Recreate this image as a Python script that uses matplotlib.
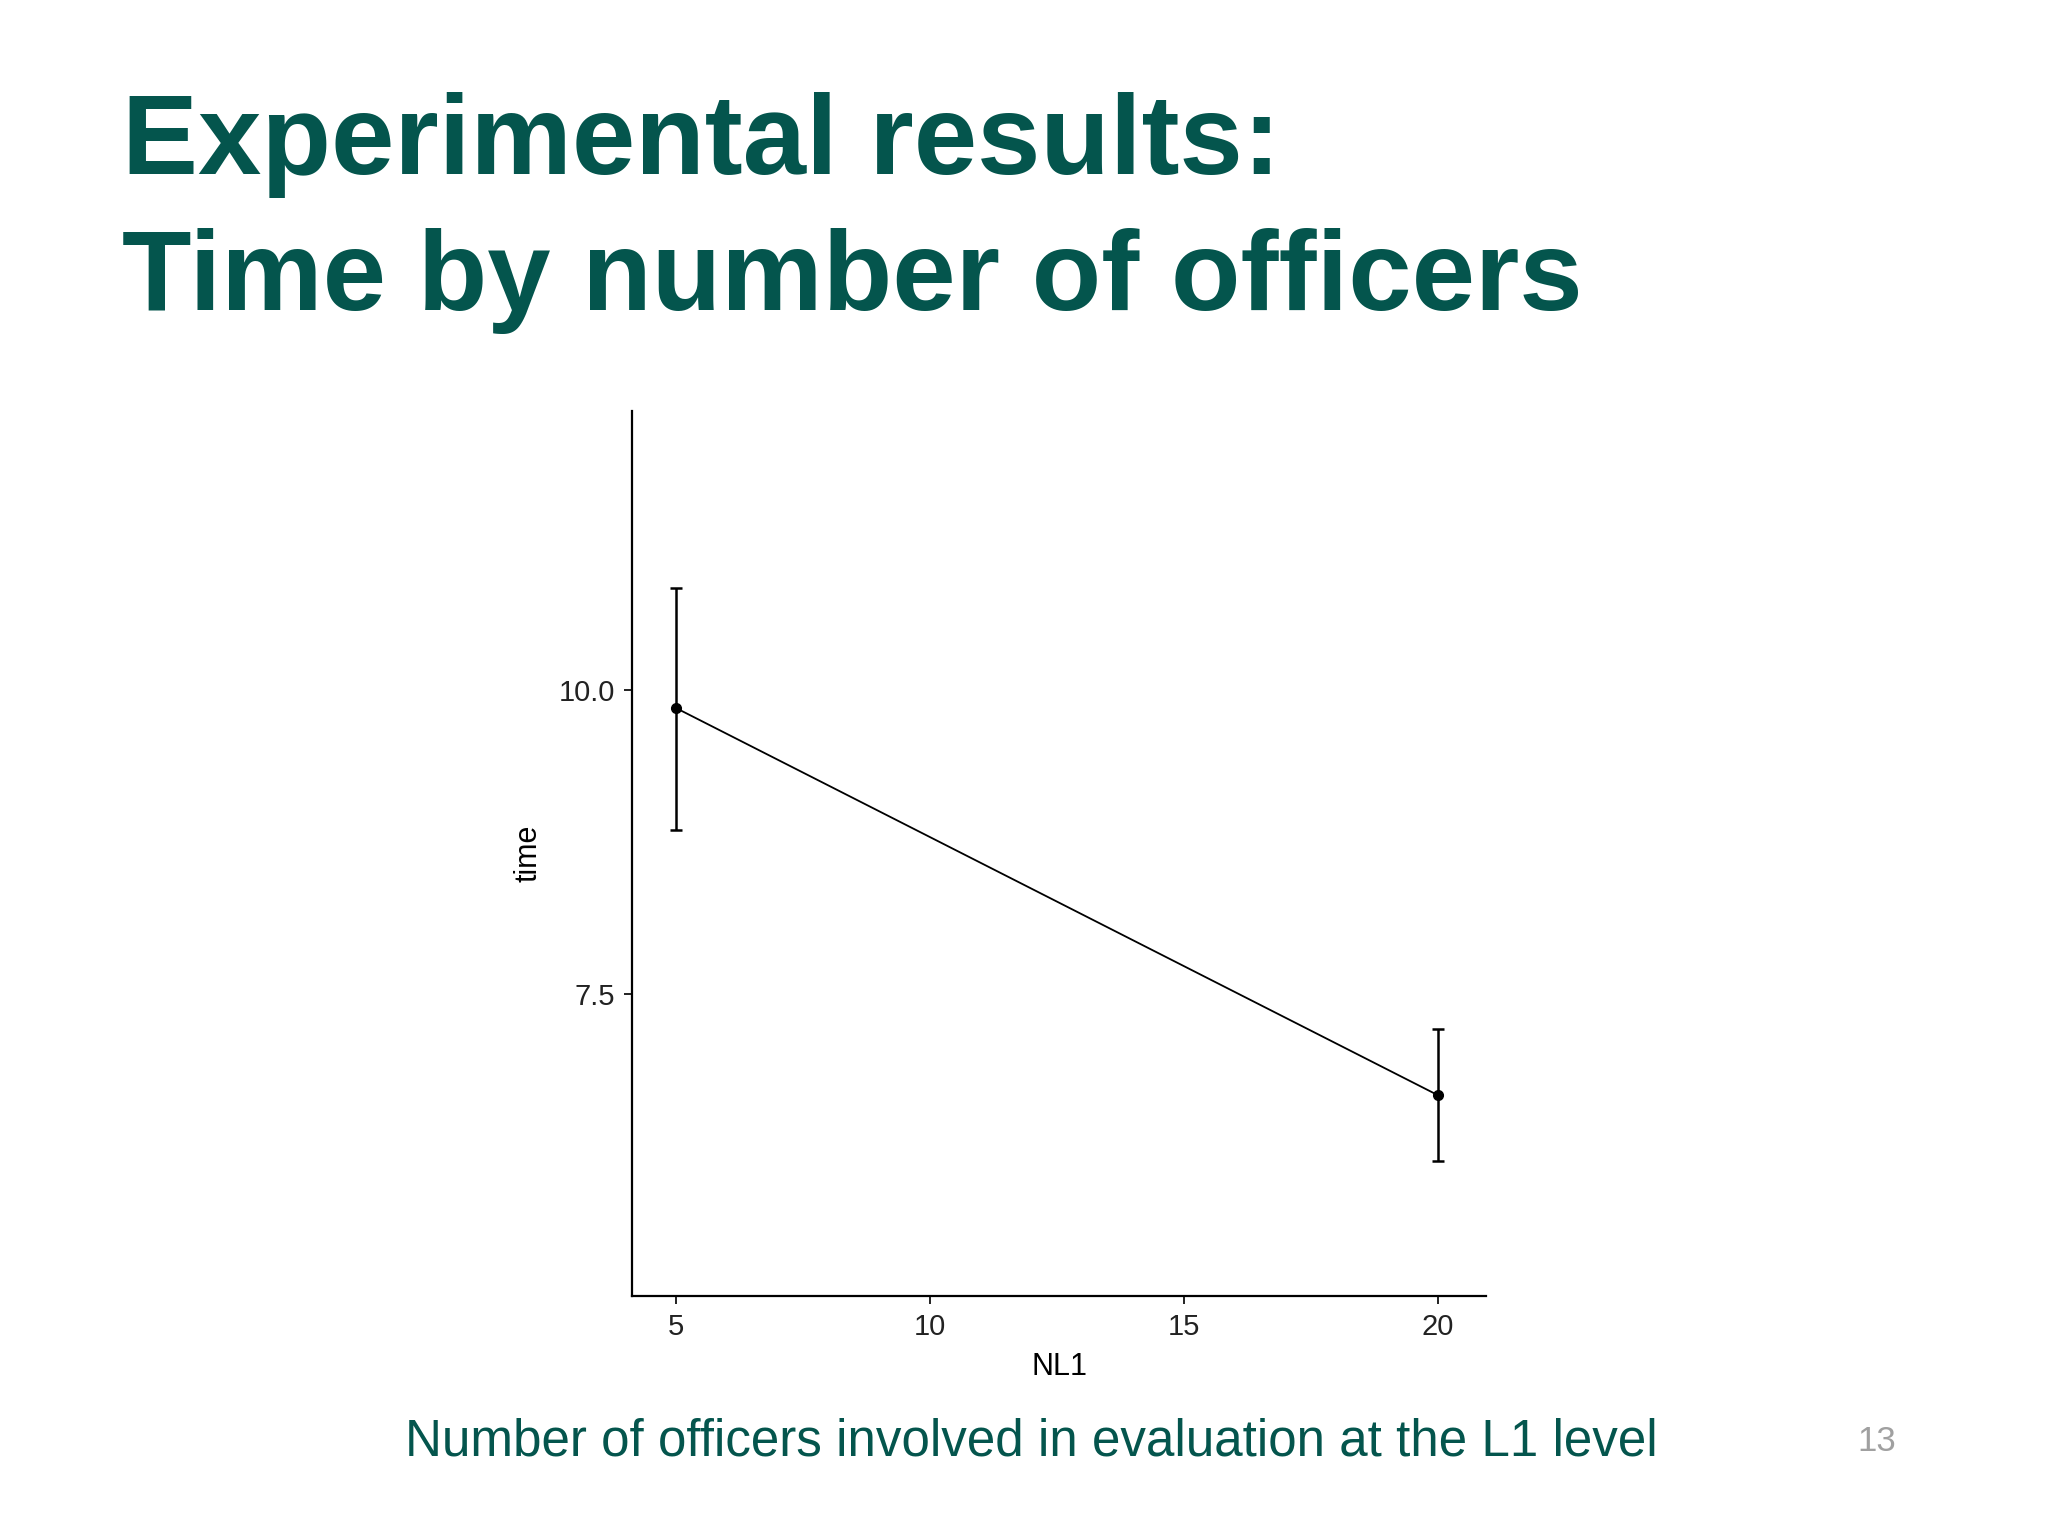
import matplotlib
matplotlib.use("Agg")
import matplotlib.pyplot as plt

# ---- data ----
nl1 = [5, 20]
time_mean = [9.85, 6.67]
ci_lower = [8.85, 6.13]
ci_upper = [10.84, 7.21]
x_ticks = [5, 10, 15, 20]
y_ticks = [7.5, 10.0]
y_tick_labels = ["7.5", "10.0"]

title_lines = ["Experimental results:", "Time by number of officers"]
subtitle = "Number of officers involved in evaluation at the L1 level"
page_no = "13"

TEAL = "#04554d"
plt.rcParams["font.family"] = ["Liberation Sans", "DejaVu Sans"]

fig = plt.figure(figsize=(20.48, 15.36), dpi=100)
fig.patch.set_facecolor("white")

fig.text(0.0596, 0.8867, title_lines[0], fontsize=82, fontweight="bold",
         color=TEAL, ha="left", va="baseline")
fig.text(0.0596, 0.7982, title_lines[1], fontsize=82, fontweight="bold",
         color=TEAL, ha="left", va="baseline")
fig.text(0.1978, 0.0527, subtitle, fontsize=36.8, color=TEAL,
         ha="left", va="baseline")
fig.text(0.9165, 0.0555, page_no, fontsize=25, color="#a0a0a0",
         ha="center", va="baseline")

ax = fig.add_axes([0.3086, 0.1563, 0.417, 0.576])
yerr = [[m - lo for m, lo in zip(time_mean, ci_lower)],
        [hi - m for m, hi in zip(time_mean, ci_upper)]]
ax.plot(nl1, time_mean, color="black", lw=1.3, zorder=2)
ax.errorbar(nl1, time_mean, yerr=yerr, fmt="o", color="black", ms=7,
            elinewidth=1.8, capsize=4, capthick=1.8, zorder=3)

ax.set_xlim(4.13, 20.95)
ax.set_ylim(5.02, 12.29)
ax.set_xticks(x_ticks)
ax.set_yticks(y_ticks)
ax.set_yticklabels(y_tick_labels)
for s in ["top", "right"]:
    ax.spines[s].set_visible(False)
for s in ["left", "bottom"]:
    ax.spines[s].set_linewidth(1.6)
    ax.spines[s].set_color("black")
ax.tick_params(axis="both", length=6, width=1.4, color="#222222",
               labelsize=21, labelcolor="#222222", pad=6)
ax.set_xlabel("NL1", fontsize=22, color="black")
ax.set_ylabel("time", fontsize=22, color="black")
ax.xaxis.set_label_coords(0.5, -0.063)
ax.yaxis.set_label_coords(-0.104, 0.5)

fig.savefig("out.png", dpi=100, facecolor="white")
